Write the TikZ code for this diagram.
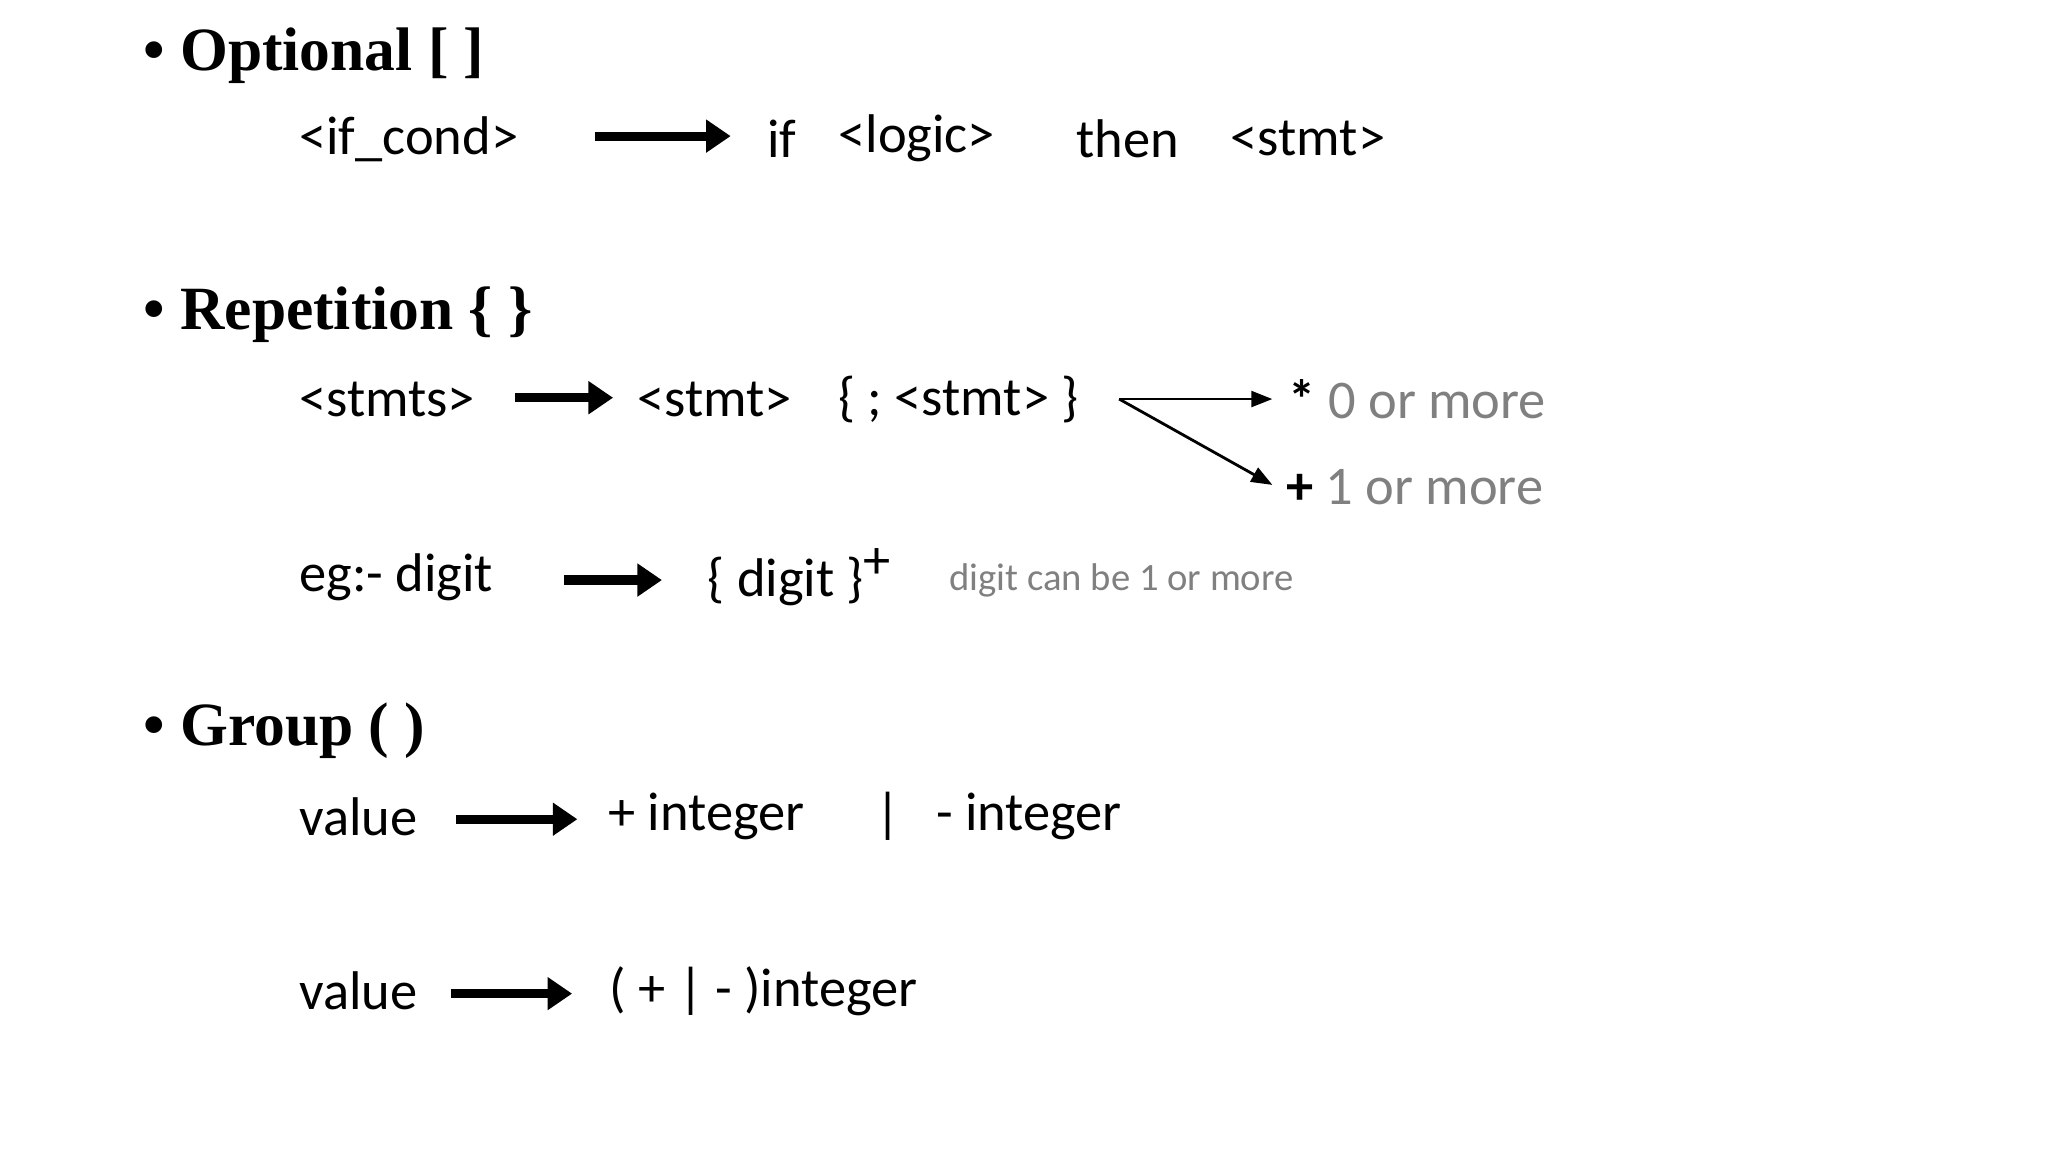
\documentclass[tikz,border=0pt]{standalone}
\usepackage{fontspec}
\setmainfont{Carlito}
\newfontfamily\hfont{Liberation Serif}
\usetikzlibrary{arrows.meta}
\definecolor{gr}{RGB}{128,128,128}
\tikzset{
 txt/.style={anchor=west,inner sep=0pt,font=\fontsize{15.5}{18}\selectfont},
 head/.style={anchor=west,inner sep=0pt,font=\hfont\bfseries\fontsize{17.5}{20}\selectfont},
 gtxt/.style={txt,text=gr},
 small/.style={anchor=west,inner sep=0pt,text=gr,font=\fontsize{11}{13}\selectfont},
 big/.style={line width=2.6pt,-{Triangle[length=7pt,width=9pt]}},
 thin/.style={line width=0.8pt,-{Triangle[length=6pt,width=4.5pt]}}
}
\begin{document}
\begin{tikzpicture}[x=0.013213cm,y=-0.013213cm]
\useasboundingbox (0,0) rectangle (1550,872);
\node[head] (h1) at (108,42) {\textbullet\ Optional [ ]};
\node[head] (h2) at (108,238) {\textbullet\ Repetition \{ \}};
\node[head] (h3) at (108,553) {\textbullet\ Group ( )};
% row 1
\node[txt] (a1) at (226,105) {<if\_cond>};
\coordinate (a1e) at (450,103);
\coordinate (a1f) at (553,103);
\draw[big] (a1e) -- (a1f);
\node[txt] (a2) at (580,105) {if};
\node[txt] (a3) at (634,105) {<logic>};
\node[txt] (a4) at (814,105) {then};
\node[txt] (a5) at (931,105) {<stmt>};
% row 2
\node[txt] (b1) at (226,302) {<stmts>};
\coordinate (b1e) at (390,301);
\coordinate (b1f) at (464,301);
\draw[big] (b1e) -- (b1f);
\node[txt] (b2) at (482,302) {<stmt>};
\node[txt] (b3) at (634,302) {\{ ; <stmt> \}};
\coordinate (bs) at (847,302);
\coordinate (bt1) at (963,302);
\coordinate (bt2) at (963,367);
\draw[thin] (bs) -- (bt1);
\draw[thin] (bs) -- (bt2);
\node[txt] (b4) at (975,302) {\textbf{*} \textcolor{gr}{0 or more}};
\node[txt] (b5) at (973,369) {\textbf{+} \textcolor{gr}{1 or more}};
% row 3
\node[txt] (c1) at (226,437) {eg:- digit};
\coordinate (c1e) at (427,439);
\coordinate (c1f) at (501,439);
\draw[big] (c1e) -- (c1f);
\node[txt] (c2) at (535,437) {\{ digit \}$^{\mbox{+}}$};
\node[small] (c3) at (718,439) {digit can be 1 or more};
% group
\node[txt] (d1) at (226,618) {value};
\coordinate (d1e) at (345,620);
\coordinate (d1f) at (437,620);
\draw[big] (d1e) -- (d1f);
\node[txt] (d2) at (460,618) {+ integer};
\node[txt] (d3) at (662,618) {|};
\node[txt] (d4) at (708,618) {- integer};
\node[txt] (e1) at (226,750) {value};
\coordinate (e1e) at (341,752);
\coordinate (e1f) at (433,752);
\draw[big] (e1e) -- (e1f);
\node[txt] (e2) at (461,750) {( + | - )integer};
\end{tikzpicture}
\end{document}
